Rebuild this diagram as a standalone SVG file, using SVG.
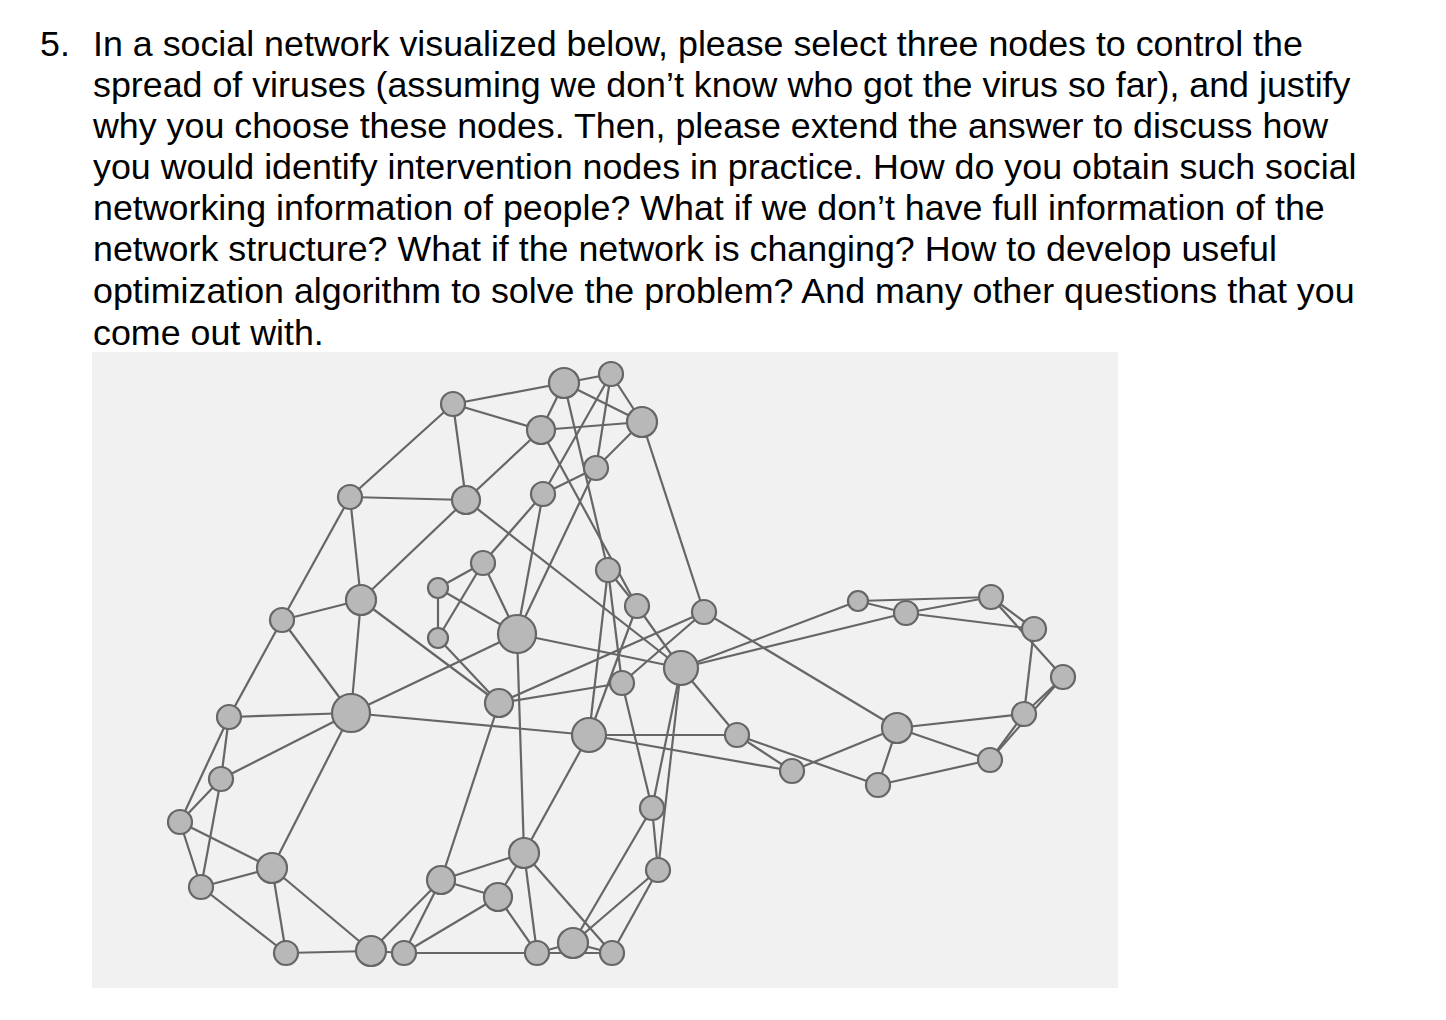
<svg xmlns="http://www.w3.org/2000/svg" width="1446" height="1020" viewBox="0 0 1446 1020">
<style>
.t{font-family:"Liberation Sans",Arial,sans-serif;font-size:35.8px;fill:#000}
.e line{stroke:#666;stroke-width:2.2}
.n circle{fill:#b8b8b8;stroke:#666;stroke-width:2.2}
</style>
<rect width="1446" height="1020" fill="#fff"/>
<g id="question">
<text class="t" x="40" y="56">5.</text>
<text class="t" x="93" y="56">In a social network visualized below, please select three nodes to control the</text>
<text class="t" x="93" y="97">spread of viruses (assuming we don’t know who got the virus so far), and justify</text>
<text class="t" x="93" y="138">why you choose these nodes. Then, please extend the answer to discuss how</text>
<text class="t" x="93" y="179">you would identify intervention nodes in practice. How do you obtain such social</text>
<text class="t" x="93" y="220">networking information of people? What if we don’t have full information of the</text>
<text class="t" x="93" y="261">network structure? What if the network is changing? How to develop useful</text>
<text class="t" x="93" y="303">optimization algorithm to solve the problem? And many other questions that you</text>
<text class="t" x="93" y="345">come out with.</text>
</g>
<rect x="92" y="352" width="1026" height="636" fill="#f1f1f1"/>
<g id="edges" class="e">
<line x1="453" y1="404" x2="564" y2="383"/><line x1="564" y1="383" x2="611" y2="374"/>
<line x1="453" y1="404" x2="541" y2="430"/><line x1="564" y1="383" x2="541" y2="430"/>
<line x1="564" y1="383" x2="642" y2="422"/><line x1="611" y1="374" x2="642" y2="422"/>
<line x1="541" y1="430" x2="642" y2="422"/><line x1="611" y1="374" x2="596" y2="468"/>
<line x1="642" y1="422" x2="596" y2="468"/><line x1="611" y1="374" x2="543" y2="494"/>
<line x1="596" y1="468" x2="543" y2="494"/><line x1="596" y1="468" x2="517" y2="634"/>
<line x1="543" y1="494" x2="517" y2="634"/><line x1="543" y1="494" x2="483" y2="563"/>
<line x1="564" y1="383" x2="608" y2="570"/><line x1="541" y1="430" x2="637" y2="606"/>
<line x1="642" y1="422" x2="704" y2="612"/>
<line x1="453" y1="404" x2="350" y2="497"/><line x1="453" y1="404" x2="466" y2="500"/>
<line x1="350" y1="497" x2="466" y2="500"/><line x1="541" y1="430" x2="466" y2="500"/>
<line x1="466" y1="500" x2="361" y2="600"/><line x1="466" y1="500" x2="681" y2="668"/>
<line x1="350" y1="497" x2="282" y2="620"/><line x1="350" y1="497" x2="361" y2="600"/>
<line x1="282" y1="620" x2="361" y2="600"/><line x1="282" y1="620" x2="229" y2="717"/>
<line x1="282" y1="620" x2="351" y2="713"/><line x1="361" y1="600" x2="351" y2="713"/>
<line x1="361" y1="600" x2="499" y2="703"/>
<line x1="438" y1="588" x2="438" y2="638"/><line x1="483" y1="563" x2="438" y2="588"/>
<line x1="483" y1="563" x2="438" y2="638"/><line x1="483" y1="563" x2="517" y2="634"/>
<line x1="438" y1="588" x2="517" y2="634"/><line x1="438" y1="638" x2="499" y2="703"/>
<line x1="517" y1="634" x2="681" y2="668"/><line x1="517" y1="634" x2="351" y2="713"/>
<line x1="517" y1="634" x2="524" y2="853"/>
<line x1="704" y1="612" x2="622" y2="683"/><line x1="704" y1="612" x2="499" y2="703"/>
<line x1="608" y1="570" x2="637" y2="606"/><line x1="608" y1="570" x2="622" y2="683"/>
<line x1="608" y1="570" x2="589" y2="735"/><line x1="637" y1="606" x2="681" y2="668"/>
<line x1="637" y1="606" x2="589" y2="735"/><line x1="704" y1="612" x2="897" y2="728"/>
<line x1="681" y1="668" x2="858" y2="601"/><line x1="681" y1="668" x2="906" y2="613"/>
<line x1="681" y1="668" x2="737" y2="735"/><line x1="681" y1="668" x2="652" y2="808"/>
<line x1="681" y1="668" x2="658" y2="870"/><line x1="622" y1="683" x2="652" y2="808"/>
<line x1="351" y1="713" x2="589" y2="735"/><line x1="589" y1="735" x2="792" y2="771"/>
<line x1="589" y1="735" x2="737" y2="735"/>
<line x1="737" y1="735" x2="792" y2="771"/><line x1="737" y1="735" x2="878" y2="785"/>
<line x1="792" y1="771" x2="897" y2="728"/><line x1="878" y1="785" x2="897" y2="728"/>
<line x1="897" y1="728" x2="1024" y2="714"/><line x1="897" y1="728" x2="990" y2="760"/>
<line x1="878" y1="785" x2="990" y2="760"/>
<line x1="858" y1="601" x2="906" y2="613"/><line x1="858" y1="601" x2="991" y2="597"/>
<line x1="906" y1="613" x2="991" y2="597"/><line x1="906" y1="613" x2="1034" y2="629"/>
<line x1="991" y1="597" x2="1034" y2="629"/><line x1="991" y1="597" x2="1063" y2="677"/>
<line x1="1034" y1="629" x2="1024" y2="714"/><line x1="1063" y1="677" x2="1024" y2="714"/>
<line x1="1063" y1="677" x2="990" y2="760"/><line x1="1024" y1="714" x2="990" y2="760"/>
<line x1="229" y1="717" x2="351" y2="713"/><line x1="229" y1="717" x2="221" y2="779"/>
<line x1="229" y1="717" x2="180" y2="822"/><line x1="221" y1="779" x2="351" y2="713"/>
<line x1="221" y1="779" x2="180" y2="822"/><line x1="221" y1="779" x2="201" y2="887"/>
<line x1="180" y1="822" x2="272" y2="868"/><line x1="180" y1="822" x2="201" y2="887"/>
<line x1="201" y1="887" x2="272" y2="868"/><line x1="201" y1="887" x2="286" y2="953"/>
<line x1="272" y1="868" x2="351" y2="713"/><line x1="272" y1="868" x2="286" y2="953"/>
<line x1="272" y1="868" x2="371" y2="951"/><line x1="286" y1="953" x2="371" y2="951"/>
<line x1="371" y1="951" x2="404" y2="953"/><line x1="371" y1="951" x2="441" y2="880"/>
<line x1="404" y1="953" x2="441" y2="880"/><line x1="404" y1="953" x2="498" y2="897"/>
<line x1="404" y1="953" x2="537" y2="953"/>
<line x1="441" y1="880" x2="499" y2="703"/><line x1="441" y1="880" x2="524" y2="853"/>
<line x1="441" y1="880" x2="498" y2="897"/><line x1="498" y1="897" x2="524" y2="853"/>
<line x1="498" y1="897" x2="537" y2="953"/><line x1="524" y1="853" x2="537" y2="953"/>
<line x1="524" y1="853" x2="612" y2="953"/><line x1="524" y1="853" x2="589" y2="735"/>
<line x1="537" y1="953" x2="573" y2="943"/><line x1="537" y1="953" x2="612" y2="953"/>
<line x1="573" y1="943" x2="612" y2="953"/><line x1="573" y1="943" x2="652" y2="808"/>
<line x1="573" y1="943" x2="658" y2="870"/><line x1="612" y1="953" x2="658" y2="870"/>
<line x1="652" y1="808" x2="658" y2="870"/>
<line x1="499" y1="703" x2="622" y2="683"/>
</g>
<g class="n">
<g id="n1"><circle cx="453" cy="404" r="12"/></g>
<g id="n2"><circle cx="564" cy="383" r="15"/></g>
<g id="n3"><circle cx="611" cy="374" r="12"/></g>
<g id="n4"><circle cx="541" cy="430" r="14"/></g>
<g id="n5"><circle cx="642" cy="422" r="15"/></g>
<g id="n6"><circle cx="596" cy="468" r="12"/></g>
<g id="n7"><circle cx="543" cy="494" r="12"/></g>
<g id="n8"><circle cx="350" cy="497" r="12"/></g>
<g id="n9"><circle cx="466" cy="500" r="14"/></g>
<g id="n10"><circle cx="483" cy="563" r="12"/></g>
<g id="n11"><circle cx="438" cy="588" r="10"/></g>
<g id="n12"><circle cx="438" cy="638" r="10"/></g>
<g id="n13"><circle cx="517" cy="634" r="19"/></g>
<g id="n14"><circle cx="608" cy="570" r="12"/></g>
<g id="n15"><circle cx="637" cy="606" r="12"/></g>
<g id="n16"><circle cx="704" cy="612" r="12"/></g>
<g id="n17"><circle cx="282" cy="620" r="12"/></g>
<g id="n18"><circle cx="361" cy="600" r="15"/></g>
<g id="n19"><circle cx="681" cy="668" r="17"/></g>
<g id="n20"><circle cx="622" cy="683" r="12"/></g>
<g id="n21"><circle cx="499" cy="703" r="14"/></g>
<g id="n22"><circle cx="351" cy="713" r="19"/></g>
<g id="n23"><circle cx="589" cy="735" r="17"/></g>
<g id="n24"><circle cx="229" cy="717" r="12"/></g>
<g id="n25"><circle cx="221" cy="779" r="12"/></g>
<g id="n26"><circle cx="180" cy="822" r="12"/></g>
<g id="n27"><circle cx="201" cy="887" r="12"/></g>
<g id="n28"><circle cx="272" cy="868" r="15"/></g>
<g id="n29"><circle cx="286" cy="953" r="12"/></g>
<g id="n30"><circle cx="371" cy="951" r="15"/></g>
<g id="n31"><circle cx="404" cy="953" r="12"/></g>
<g id="n32"><circle cx="441" cy="880" r="14"/></g>
<g id="n33"><circle cx="498" cy="897" r="14"/></g>
<g id="n34"><circle cx="524" cy="853" r="15"/></g>
<g id="n35"><circle cx="537" cy="953" r="12"/></g>
<g id="n36"><circle cx="573" cy="943" r="15"/></g>
<g id="n37"><circle cx="612" cy="953" r="12"/></g>
<g id="n38"><circle cx="652" cy="808" r="12"/></g>
<g id="n39"><circle cx="658" cy="870" r="12"/></g>
<g id="n40"><circle cx="737" cy="735" r="12"/></g>
<g id="n41"><circle cx="792" cy="771" r="12"/></g>
<g id="n42"><circle cx="878" cy="785" r="12"/></g>
<g id="n43"><circle cx="897" cy="728" r="15"/></g>
<g id="n44"><circle cx="858" cy="601" r="10"/></g>
<g id="n45"><circle cx="906" cy="613" r="12"/></g>
<g id="n46"><circle cx="991" cy="597" r="12"/></g>
<g id="n47"><circle cx="1034" cy="629" r="12"/></g>
<g id="n48"><circle cx="1063" cy="677" r="12"/></g>
<g id="n49"><circle cx="1024" cy="714" r="12"/></g>
<g id="n50"><circle cx="990" cy="760" r="12"/></g>
</g>
</svg>
